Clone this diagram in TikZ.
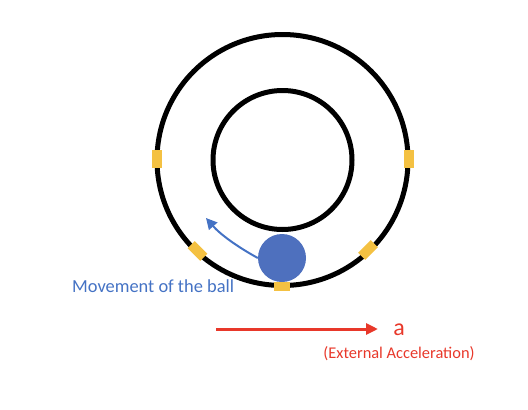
\documentclass[tikz,border=0pt]{standalone}
\usepackage{fontspec}
\setmainfont{Carlito}
\usetikzlibrary{arrows.meta}
\definecolor{ballblue}{HTML}{4E70BE}
\definecolor{txtblue}{HTML}{4472C4}
\definecolor{mark}{HTML}{F4C142}
\definecolor{accred}{HTML}{E8382A}
\tikzset{
  ring/.style={draw=black,line width=5pt},
  marker/.style={fill=mark,draw=none,minimum width=10pt,minimum height=18pt,inner sep=0pt},
}
\begin{document}
\begin{tikzpicture}[x=1pt,y=-1pt]
\useasboundingbox (0,0) rectangle (528,410);
\coordinate (c) at (282.5,160);
\draw[ring] (c) circle[radius=125.5];
\draw[ring] (c) circle[radius=69.5];
\node[marker] (ml) at (157,159) {};
\node[marker] (mr) at (409,159) {};
\node[marker,rotate=45] (mll) at (197.5,251) {};
\node[marker,rotate=-45] (mlr) at (368,250) {};
\node[fill=ballblue,circle,minimum size=48pt,inner sep=0pt] (ball) at (282,258) {};
\node[marker,minimum width=16pt,minimum height=9pt] (mb) at (282,286) {};
\coordinate (tip) at (206,218);
\draw[txtblue,line width=2pt,-{Triangle[length=11pt,width=11pt]}] (ball.west) .. controls (236,246) and (220,234) .. (tip);
\node[txtblue,font=\fontsize{18.4}{20}\selectfont,anchor=base west,inner sep=0pt] (mv) at (72,292) {Movement of the ball};
\coordinate (a0) at (216,329);
\node[accred,font=\fontsize{24}{26}\selectfont,inner sep=0pt] (a) at (399,330) {a};
\draw[accred,line width=3pt,-{Triangle[length=12pt,width=11pt]}] (a0) -- (378,329);
\node[accred,font=\fontsize{16.4}{18}\selectfont,inner sep=0pt] (ext) at (399,354) {(External Acceleration)};
\end{tikzpicture}
\end{document}
